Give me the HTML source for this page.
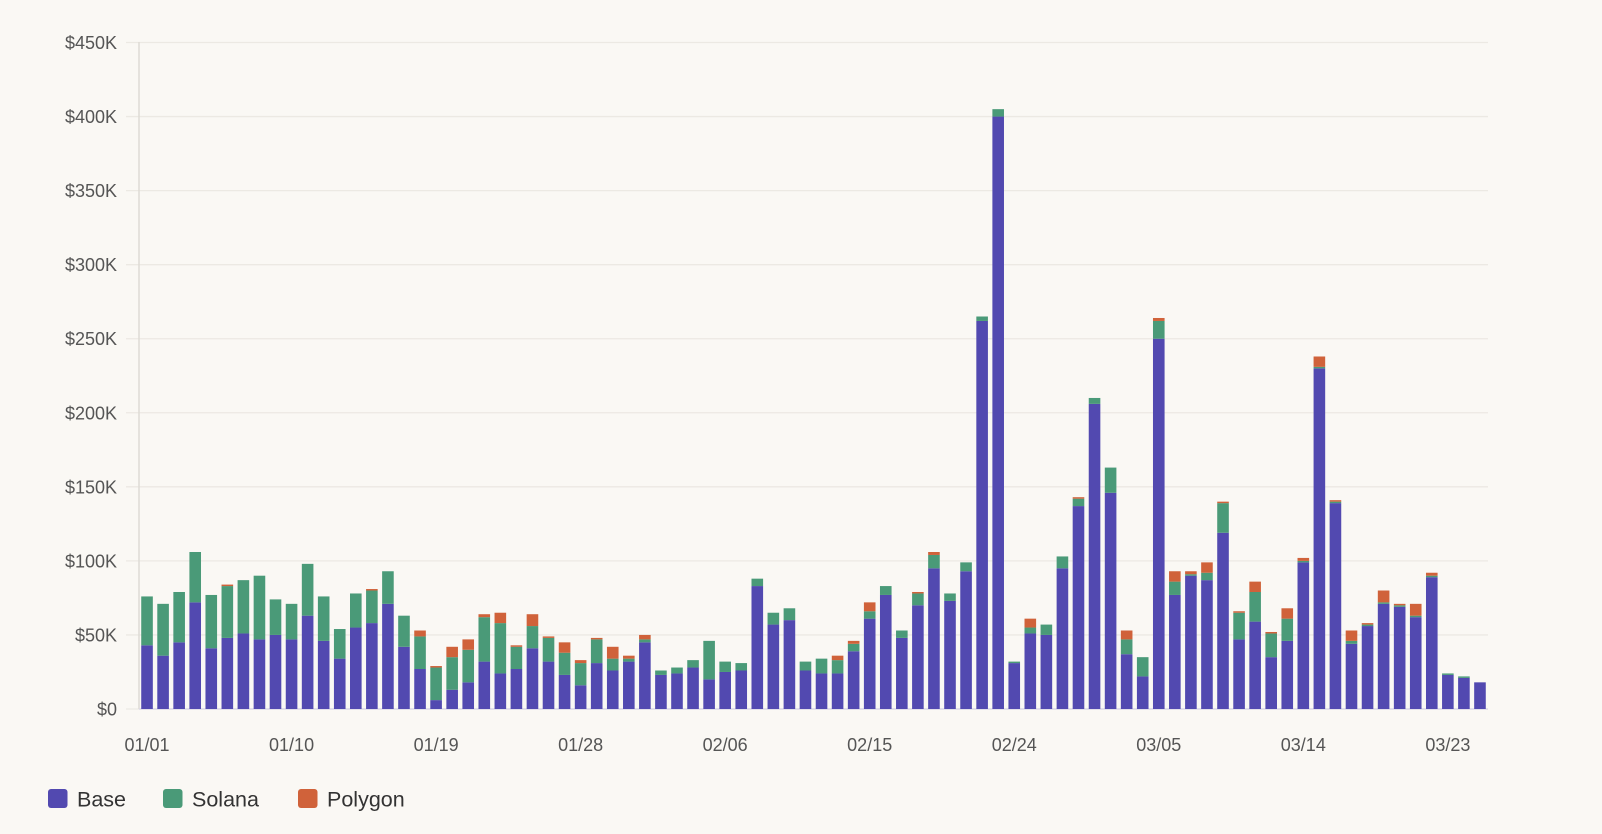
<!DOCTYPE html>
<html><head><meta charset="utf-8"><style>
html,body{margin:0;padding:0;background:#faf8f4;}
svg{display:block}
text{font-family:"Liberation Sans",sans-serif;}
</style></head><body>
<svg id="c" width="1602" height="834" viewBox="0 0 1602 834" xmlns="http://www.w3.org/2000/svg"></svg>
<script>
var d=[[43,76,0],[36,71,0],[45,79,0],[72,106,0],[41,77,0],[48,83,84],[51,87,0],[47,90,0],[50,74,0],[47,71,0],
[63,98,0],[46,76,0],[34,54,0],[55,78,0],[58,80,81],[71,93,0],[42,63,0],[27,49,53],[6,28,29],[13,35,42],
[18,40,47],[32,62,64],[24,58,65],[27,42,43],[41,56,64],[32,48,49],[23,38,45],[16,31,33],[31,47,48],[26,34,42],
[32,34,36],[45,47,50],[23,26,0],[24,28,0],[28,33,0],[20,46,0],[25,32,0],[26,31,0],[83,88,0],[57,65,0],
[60,68,0],[26,32,0],[24,34,0],[24,33,36],[39,44,46],[61,66,72],[77,83,0],[48,53,0],[70,78,79],[95,104,106],
[73,78,0],[93,99,0],[262,265,0],[400,405,0],[31,32,0],[51,55,61],[50,57,0],[95,103,0],[137,142,143],[206,210,0],
[146,163,0],[37,47,53],[22,35,0],[250,262,264],[77,86,93],[90,91,93],[87,92,99],[119,139,140],[47,65,66],[59,79,86],
[35,51,52],[46,61,68],[99,100,102],[230,231,238],[139,140,141],[44,46,53],[56,57,58],[71,72,80],[69,70,71],[62,63,71],
[89,90,92],[23,24,0],[21,22,0],[18,18,0]];
var s='',x0=139,x1=1488,y0=709,pk=(709-42.5)/450,bw=(x1-x0)/84;
function Y(v){return y0-v*pk;}
for(var i=0;i<=9;i++){var y=Y(i*50);
 s+='<line x1="126" x2="'+x1+'" y1="'+y+'" y2="'+y+'" stroke="#ece9e3" stroke-width="1.3"/>';
 s+='<text x="117" y="'+(y+6.5)+'" text-anchor="end" font-size="18" fill="#555">$'+(i?i*50+'K':'0')+'</text>';}
s+='<line x1="'+x0+'" x2="'+x0+'" y1="42" y2="'+y0+'" stroke="#dedbd5" stroke-width="1.5"/>';
s+='<line x1="'+x0+'" x2="'+x1+'" y1="'+y0+'" y2="'+y0+'" stroke="#dcd8e8" stroke-width="1.5"/>';
d.forEach(function(r,i){var cx=x0+bw*(i+0.5),l=cx-5.8,w=11.6;
 var b=r[0],so=r[1],p=r[2];
 s+='<rect x="'+l+'" y="'+Y(b)+'" width="'+w+'" height="'+(b*pk)+'" fill="#5249b0"/>';
 if(so>b)s+='<rect x="'+l+'" y="'+Y(so)+'" width="'+w+'" height="'+((so-b)*pk)+'" fill="#4a9a78"/>';
 if(p>so)s+='<rect x="'+l+'" y="'+Y(p)+'" width="'+w+'" height="'+((p-so)*pk)+'" fill="#d0623a"/>';
});
var labs=['01/01','01/10','01/19','01/28','02/06','02/15','02/24','03/05','03/14','03/23'];
labs.forEach(function(t,k){var cx=x0+bw*(k*9+0.5);
 s+='<text x="'+cx+'" y="751" text-anchor="middle" font-size="18" fill="#555">'+t+'</text>';});
[['Base',48,'#5249b0'],['Solana',163,'#4a9a78'],['Polygon',298,'#d0623a']].forEach(function(g){
 s+='<rect x="'+g[1]+'" y="789" width="19.5" height="19" rx="3" fill="'+g[2]+'"/>';
 s+='<text x="'+(g[1]+29)+'" y="806.5" font-size="21.5" fill="#333">'+g[0]+'</text>';});
document.getElementById('c').innerHTML=s;
</script>
</body></html>
